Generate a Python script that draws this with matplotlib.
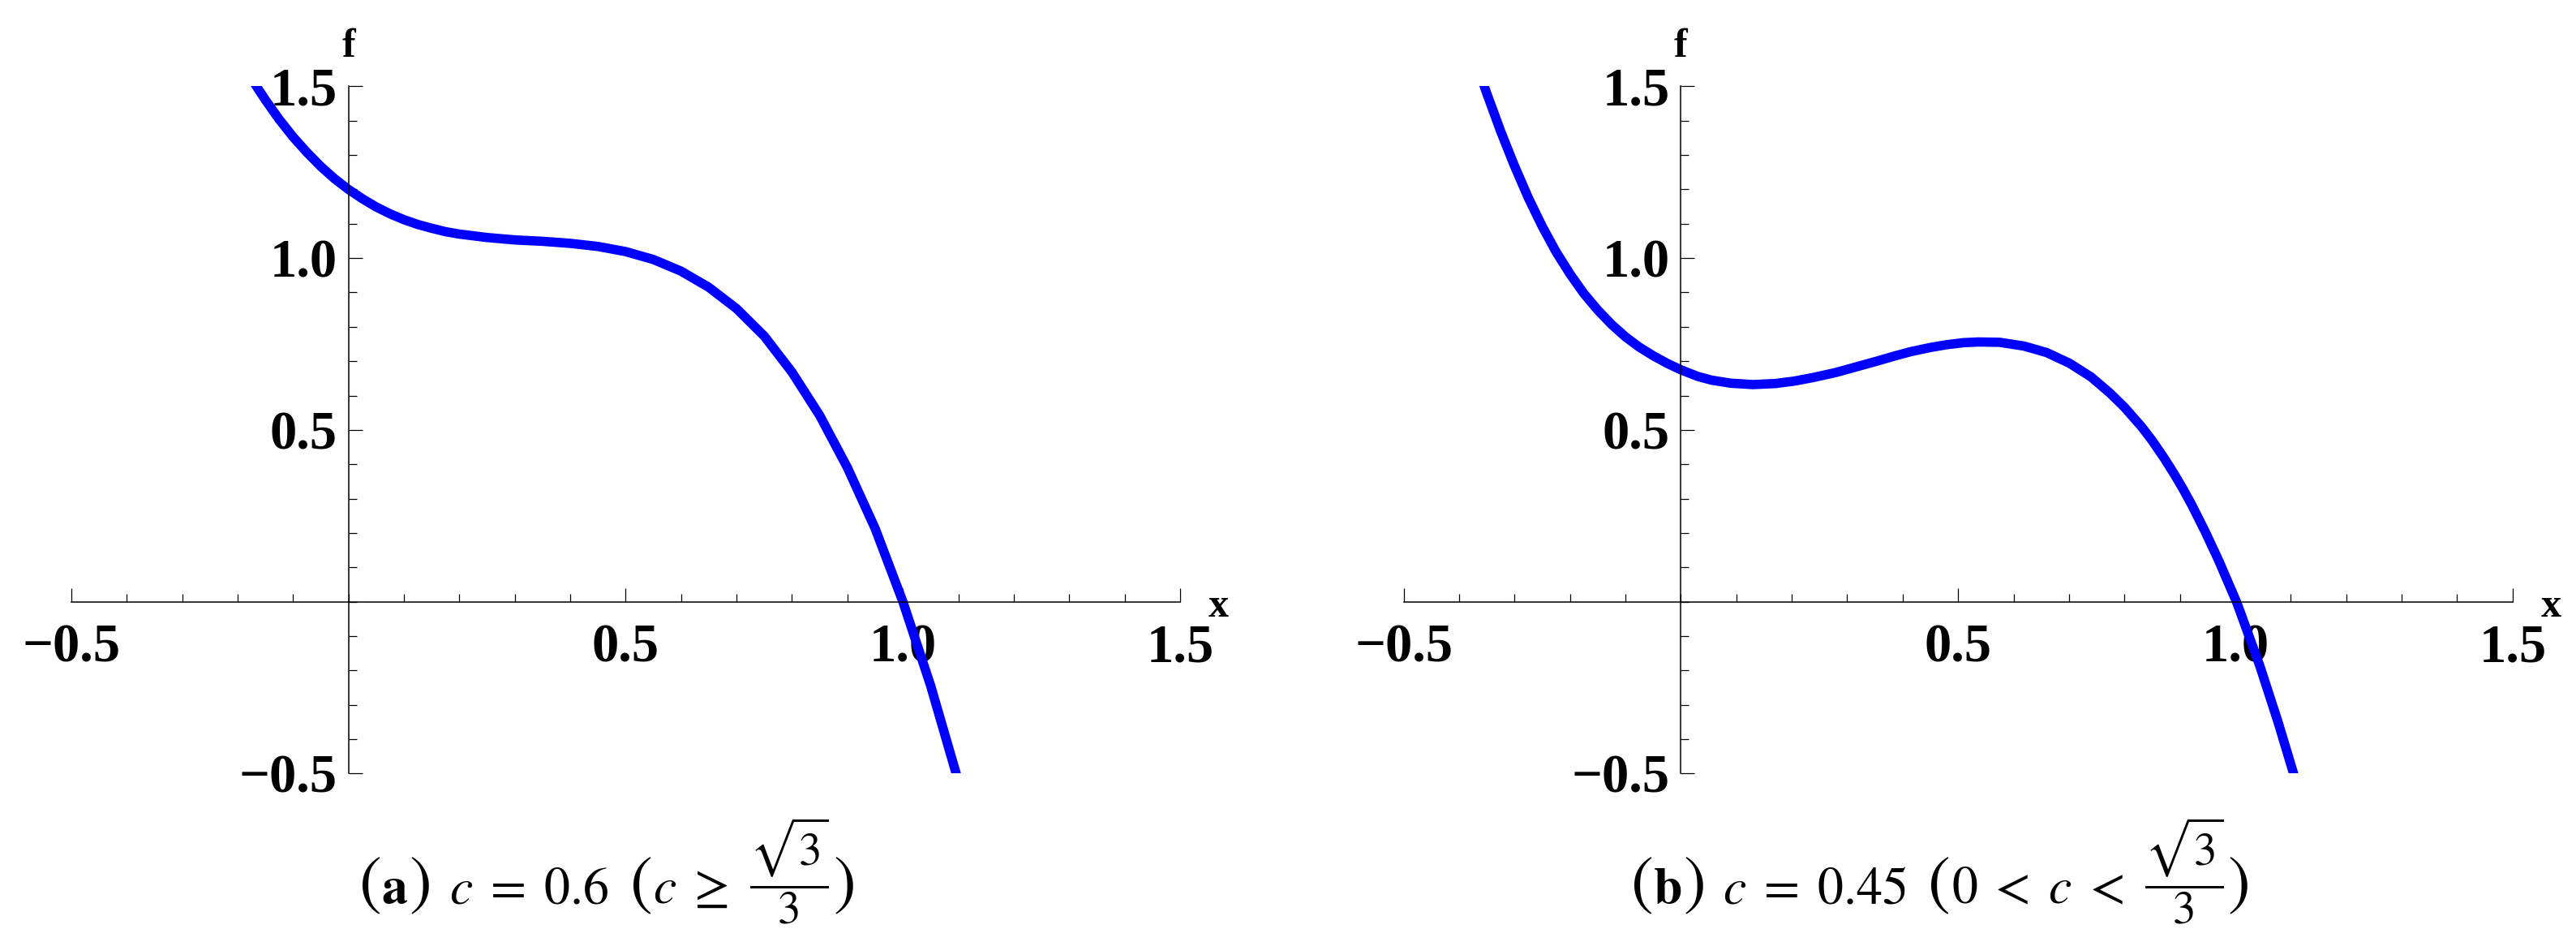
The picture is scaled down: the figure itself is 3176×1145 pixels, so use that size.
import matplotlib
matplotlib.use("Agg")
import matplotlib.pyplot as plt
from matplotlib.ticker import FixedLocator, MultipleLocator

# ---- data ----
xa = [-0.172, -0.150, -0.125, -0.100, -0.075, -0.050, -0.025, 0.000, 0.025, 0.050,
      0.075, 0.100, 0.125, 0.150, 0.175, 0.200, 0.250, 0.300, 0.350, 0.400,
      0.450, 0.500, 0.550, 0.600, 0.650, 0.700, 0.750, 0.800, 0.850, 0.900,
      0.950, 1.000, 1.050, 1.100]
ya = [1.515, 1.461, 1.404, 1.353, 1.308, 1.267, 1.231, 1.200, 1.173, 1.149,
      1.129, 1.112, 1.098, 1.087, 1.077, 1.070, 1.060, 1.053, 1.049, 1.043,
      1.034, 1.019, 0.996, 0.962, 0.915, 0.853, 0.773, 0.668, 0.542, 0.390,
      0.213, 0.000, -0.244, -0.522]

xb = [-0.360, -0.350, -0.325, -0.300, -0.275, -0.250, -0.225, -0.200, -0.175, -0.150,
      -0.125, -0.100, -0.075, -0.050, -0.025, 0.000, 0.030, 0.055, 0.090, 0.130,
      0.170, 0.204, 0.240, 0.279, 0.315, 0.353, 0.385, 0.415, 0.450, 0.479,
      0.510, 0.537, 0.575, 0.619, 0.660, 0.701, 0.740, 0.774, 0.800, 0.831,
      0.850, 0.872, 0.890, 0.905, 0.921, 0.945, 0.970, 1.003, 1.044, 1.077, 1.110]
yb = [1.525, 1.479, 1.369, 1.268, 1.175, 1.092, 1.018, 0.954, 0.897, 0.849,
      0.807, 0.771, 0.741, 0.716, 0.694, 0.675, 0.656, 0.645, 0.636, 0.632,
      0.635, 0.642, 0.653, 0.667, 0.683, 0.700, 0.715, 0.728, 0.740, 0.748,
      0.754, 0.756, 0.755, 0.744, 0.725, 0.694, 0.654, 0.607, 0.566, 0.509,
      0.469, 0.417, 0.371, 0.330, 0.283, 0.206, 0.120, -0.004, -0.186, -0.350, -0.527]

major_ticks = [-0.5, 0.5, 1.0, 1.5]
tick_labels = ["\u22120.5", "0.5", "1.0", "1.5"]
axis_names = ["x", "f"]
# caption pieces: (mathtext, role)  role: P=parenthesis, B=baseline text, F=fraction
caption_a = [(r"$($", "P"), (r"$\mathbf{a}$", "B"), (r"$)$", "P"),
             (r"$c\;=\;0.6$", "B"), (r"$($", "P"), (r"$c\;\geq$", "B"),
             (r"$\dfrac{\sqrt{3}}{3}$", "F"), (r"$)$", "P")]
caption_b = [(r"$($", "P"), (r"$\mathbf{b}$", "B"), (r"$)$", "P"),
             (r"$c\;=\;0.45$", "B"), (r"$($", "P"), (r"$0\;<\;c\;<$", "B"),
             (r"$\dfrac{\sqrt{3}}{3}$", "F"), (r"$)$", "P")]
caption_gaps = [1, 1, 24, 26, 2, 26, 5]

plt.rcParams["mathtext.fontset"] = "stix"

W, H = 3176, 1145
DPI = 100
fig = plt.figure(figsize=(W / DPI, H / DPI), dpi=DPI)

ax_left_px = [87.8, 1730.6]
ax_w_px = 1367.2
ax_top_px = 106.4
ax_bot_px = 953.4
caption_cx = [747, 2391]
role_style = {"B": (46, "baseline", 1113),
              "P": (60, "center", 1089),
              "F": (41, "bottom", 1141)}

series = [(xa, ya), (xb, yb)]
for i, (xs, ys) in enumerate(series):
    ax = fig.add_axes([ax_left_px[i] / W, (H - ax_bot_px) / H,
                       ax_w_px / W, (ax_bot_px - ax_top_px) / H])
    ax.set_xlim(-0.5, 1.5)
    ax.set_ylim(-0.5, 1.5)
    ax.plot(xs, ys, color="#0000FF", lw=8.3, solid_joinstyle="round")
    ax.spines["left"].set_position("zero")
    ax.spines["bottom"].set_position("zero")
    ax.spines["top"].set_visible(False)
    ax.spines["right"].set_visible(False)
    for s in ("left", "bottom"):
        ax.spines[s].set_linewidth(1.1)
    for axis in (ax.xaxis, ax.yaxis):
        axis.set_major_locator(FixedLocator(major_ticks))
        axis.set_minor_locator(MultipleLocator(0.1))
    ax.set_xticklabels(tick_labels)
    ax.set_yticklabels(tick_labels)
    ax.tick_params(which="major", direction="in", length=12.2, width=0.9)
    ax.tick_params(which="minor", direction="in", length=7.2, width=0.9)
    ax.tick_params(axis="x", which="major", pad=19)
    ax.tick_params(axis="y", which="major", pad=10)
    for lab in ax.get_xticklabels() + ax.get_yticklabels():
        lab.set_fontfamily("Liberation Serif")
        lab.set_fontweight("bold")
        lab.set_fontsize(48)
    ax.patch.set_visible(False)
    ax.text(1.5695, -0.0426, axis_names[0], fontsize=36, fontweight="bold",
            family="Liberation Serif", ha="center", va="baseline", clip_on=False)
    ax.text(0.0, 1.587, axis_names[1], fontsize=36, fontweight="bold",
            family="Liberation Serif", ha="center", va="baseline", clip_on=False)

# ---- captions laid out piece by piece ----
renderer = fig.canvas.get_renderer()
for i, pieces in enumerate([caption_a, caption_b]):
    texts, widths = [], []
    for s, role in pieces:
        fs, va, ypx = role_style[role]
        t = fig.text(0, (H - ypx) / H, s, fontsize=fs, ha="left", va=va)
        texts.append(t)
        widths.append(t.get_window_extent(renderer).width)
    total = sum(widths) + sum(caption_gaps)
    x = caption_cx[i] - total / 2
    for k, t in enumerate(texts):
        t.set_x(x / W)
        x += widths[k] + (caption_gaps[k] if k < len(caption_gaps) else 0)

fig.savefig("out.png", dpi=DPI)
